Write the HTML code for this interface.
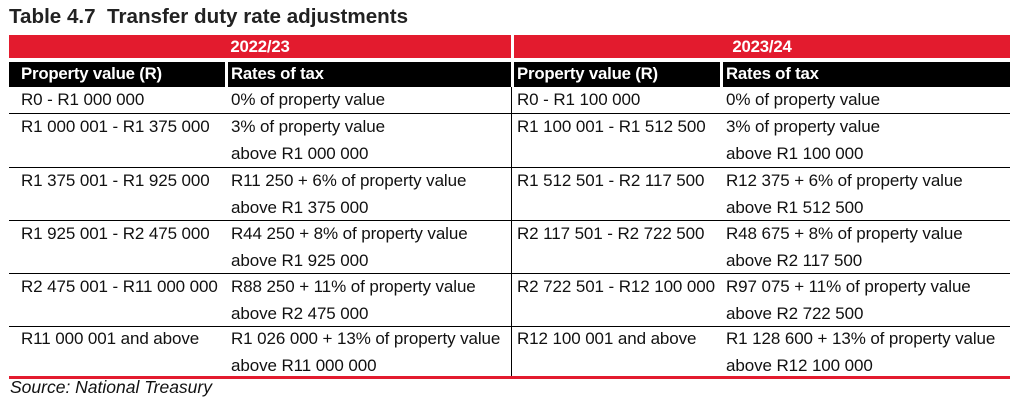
<!DOCTYPE html>
<html><head><meta charset="utf-8"><style>
body{margin:0;width:1021px;height:409px;background:#fff;position:relative;overflow:hidden;font-family:"Liberation Sans",sans-serif;color:#111}
.a{position:absolute;white-space:nowrap}
.t{font-size:17px;line-height:26.5px;letter-spacing:-0.1px}
.h{font-weight:bold;color:#fff;font-size:16.8px;letter-spacing:-0.2px}
.r{background:#e31b2e}
.k{background:#000}
.l{background:#000;height:1px}
</style></head><body>
<div class="a" style="left:9px;top:5px;font-size:20.6px;font-weight:bold;letter-spacing:0px;color:#222">Table 4.7&nbsp; Transfer duty rate adjustments</div>
<div class="a r" style="left:9px;top:35px;width:502px;height:23px"></div>
<div class="a r" style="left:514px;top:35px;width:496px;height:23px"></div>
<div class="a h" style="left:9px;top:37px;width:502px;text-align:center">2022/23</div>
<div class="a h" style="left:514px;top:37px;width:496px;text-align:center">2023/24</div>
<div class="a k" style="left:9px;top:62px;width:216px;height:25px"></div>
<div class="a k" style="left:228px;top:62px;width:283px;height:25px"></div>
<div class="a k" style="left:514px;top:62px;width:206px;height:25px"></div>
<div class="a k" style="left:723px;top:62px;width:287px;height:25px"></div>
<div class="a h" style="left:21px;top:64px">Property value (R)</div>
<div class="a h" style="left:231px;top:64px">Rates of tax</div>
<div class="a h" style="left:517px;top:64px">Property value (R)</div>
<div class="a h" style="left:726px;top:64px">Rates of tax</div>
<div class="a" style="left:511px;top:87px;width:1px;height:289px;background:#000"></div>
<div class="a l" style="left:9px;top:113px;width:1001px"></div>
<div class="a l" style="left:9px;top:167px;width:1001px"></div>
<div class="a l" style="left:9px;top:220px;width:1001px"></div>
<div class="a l" style="left:9px;top:273px;width:1001px"></div>
<div class="a l" style="left:9px;top:326px;width:1001px"></div>
<div class="a" style="left:9px;top:376px;width:1001px;height:3px;background:#e31b2e"></div>

<div class="a t" style="left:21px;top:87px">R0 - R1 000 000</div>
<div class="a t" style="left:231px;top:87px">0% of property value</div>
<div class="a t" style="left:517px;top:87px">R0 - R1 100 000</div>
<div class="a t" style="left:726px;top:87px">0% of property value</div>

<div class="a t" style="left:21px;top:114px">R1 000 001 - R1 375 000</div>
<div class="a t" style="left:231px;top:114px">3% of property value<br>above R1 000 000</div>
<div class="a t" style="left:517px;top:114px">R1 100 001 - R1 512 500</div>
<div class="a t" style="left:726px;top:114px">3% of property value<br>above R1 100 000</div>

<div class="a t" style="left:21px;top:168px">R1 375 001 - R1 925 000</div>
<div class="a t" style="left:231px;top:168px">R11 250 + 6% of property value<br>above R1 375 000</div>
<div class="a t" style="left:517px;top:168px">R1 512 501 - R2 117 500</div>
<div class="a t" style="left:726px;top:168px">R12 375 + 6% of property value<br>above R1 512 500</div>

<div class="a t" style="left:21px;top:221px">R1 925 001 - R2 475 000</div>
<div class="a t" style="left:231px;top:221px">R44 250 + 8% of property value<br>above R1 925 000</div>
<div class="a t" style="left:517px;top:221px">R2 117 501 - R2 722 500</div>
<div class="a t" style="left:726px;top:221px">R48 675 + 8% of property value<br>above R2 117 500</div>

<div class="a t" style="left:21px;top:274px">R2 475 001 - R11 000 000</div>
<div class="a t" style="left:231px;top:274px">R88 250 + 11% of property value<br>above R2 475 000</div>
<div class="a t" style="left:517px;top:274px">R2 722 501 - R12 100 000</div>
<div class="a t" style="left:726px;top:274px">R97 075 + 11% of property value<br>above R2 722 500</div>

<div class="a t" style="left:21px;top:326px">R11 000 001 and above</div>
<div class="a t" style="left:231px;top:326px">R1 026 000 + 13% of property value<br>above R11 000 000</div>
<div class="a t" style="left:517px;top:326px">R12 100 001 and above</div>
<div class="a t" style="left:726px;top:326px">R1 128 600 + 13% of property value<br>above R12 100 000</div>

<div class="a" style="left:10px;top:377px;font-size:17.5px;font-style:italic;letter-spacing:0px">Source: National Treasury</div>
</body></html>
